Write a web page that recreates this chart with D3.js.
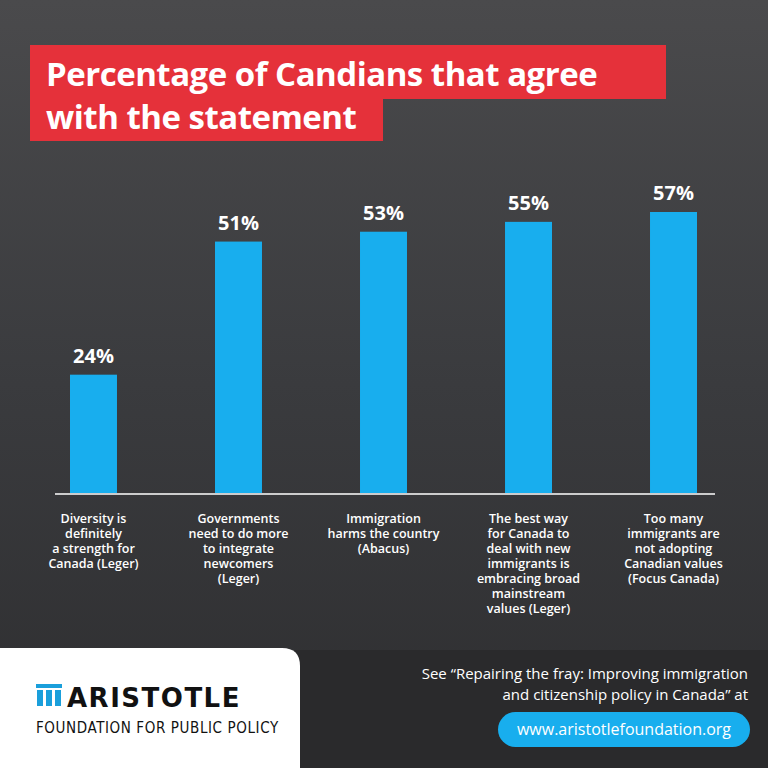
<!DOCTYPE html>
<html><head><meta charset="utf-8">
<script src="https://cdn.jsdelivr.net/npm/d3@7"></script>
<style>body{margin:0;background:#333}svg{display:block}</style>
</head><body>
<script>
const categories = [
 ["Diversity is","definitely","a strength for","Canada (Leger)"],
 ["Governments","need to do more","to integrate","newcomers","(Leger)"],
 ["Immigration","harms the country","(Abacus)"],
 ["The best way","for Canada to","deal with new","immigrants is","embracing broad","mainstream","values (Leger)"],
 ["Too many","immigrants are","not adopting","Canadian values","(Focus Canada)"]
];
const values = [24, 51, 53, 55, 57];
const titleLines = ["Percentage of Candians that agree", "with the statement"];

const W = 768, H = 768;
const svg = d3.select("body").append("svg").attr("width", W).attr("height", H);
const defs = svg.append("defs");
const g1 = defs.append("linearGradient").attr("id","bg").attr("x1",0).attr("y1",0).attr("x2",0).attr("y2",1);
g1.append("stop").attr("offset","0").attr("stop-color","#4a4a4c");
g1.append("stop").attr("offset","0.5").attr("stop-color","#3a3b3e");
g1.append("stop").attr("offset","1").attr("stop-color","#2e2e30");
svg.append("rect").attr("width",W).attr("height",H).attr("fill","url(#bg)");

const tf = "'Open Sans', sans-serif";
svg.append("rect").attr("x",30).attr("y",45).attr("width",636).attr("height",54).attr("fill","#e5313a");
svg.append("rect").attr("x",30).attr("y",98).attr("width",353).attr("height",43).attr("fill","#e5313a");
svg.selectAll("text.title").data(titleLines).join("text").attr("class","title")
 .attr("x",46).attr("y",(d,i)=>86+i*43).attr("fill","#fff")
 .attr("font-family",tf).attr("font-weight",700).attr("font-size",33).attr("letter-spacing",-0.5).text(d=>d);

const x = d3.scaleBand().domain(d3.range(values.length)).range([70, 697]).paddingInner(0.676).paddingOuter(0);
const y = d3.scaleLinear().domain([0, 57]).range([493, 212]);
svg.append("line").attr("x1",55).attr("x2",715).attr("y1",494).attr("y2",494).attr("stroke","#fff").attr("stroke-width",1.5);
svg.selectAll("rect.bar").data(values).join("rect").attr("class","bar")
 .attr("x",(d,i)=>x(i)).attr("width",x.bandwidth())
 .attr("y",d=>y(d)).attr("height",d=>y(0)-y(d)).attr("fill","#18aeee");
svg.selectAll("text.val").data(values).join("text").attr("class","val")
 .attr("x",(d,i)=>x(i)+x.bandwidth()/2).attr("y",d=>y(d)-12)
 .attr("text-anchor","middle").attr("fill","#fff").attr("font-family",tf)
 .attr("font-weight",700).attr("font-size",20).text(d=>d+"%");
categories.forEach((lines,i)=>{
  const t = svg.append("text").attr("text-anchor","middle").attr("fill","#fff")
   .attr("font-family",tf).attr("font-weight",600).attr("font-size",12.5);
  lines.forEach((l,j)=>t.append("tspan").attr("x",x(i)+x.bandwidth()/2).attr("y",523+j*15).text(l));
});

svg.append("rect").attr("x",0).attr("y",650).attr("width",W).attr("height",118).attr("fill","#2a2a2c");
svg.append("path").attr("d","M0,648 H282 Q300,648 300,666 V768 H0 Z").attr("fill","#fff");
const lg = svg.append("g").attr("fill","#1a9fdb");
lg.append("rect").attr("x",36).attr("y",684).attr("width",26).attr("height",4);
[37,46,55].forEach(xx=>lg.append("rect").attr("x",xx).attr("y",690).attr("width",6).attr("height",16));
svg.append("text").attr("x",67).attr("y",707).attr("font-family","'DejaVu Sans', sans-serif")
 .attr("font-weight",700).attr("font-size",26).attr("letter-spacing",1.5).attr("fill","#111").text("ARISTOTLE");
svg.append("text").attr("x",36).attr("y",733).attr("font-family","'DejaVu Sans Condensed','DejaVu Sans', sans-serif")
 .attr("font-size",15).attr("letter-spacing",0.6).attr("fill","#111").text("FOUNDATION FOR PUBLIC POLICY");
svg.append("text").attr("x",748).attr("y",679).attr("text-anchor","end").attr("font-family",tf)
 .attr("font-size",15).attr("fill","#fff").text("See “Repairing the fray: Improving immigration");
svg.append("text").attr("x",748).attr("y",700).attr("text-anchor","end").attr("font-family",tf)
 .attr("font-size",15).attr("fill","#fff").text("and citizenship policy in Canada” at");
svg.append("rect").attr("x",498).attr("y",712).attr("width",252).attr("height",35).attr("rx",17.5).attr("fill","#18aeee");
svg.append("text").attr("x",624).attr("y",735).attr("text-anchor","middle").attr("font-family",tf)
 .attr("font-size",16).attr("font-weight",500).attr("fill","#fff").text("www.aristotlefoundation.org");
</script>
</body></html>
